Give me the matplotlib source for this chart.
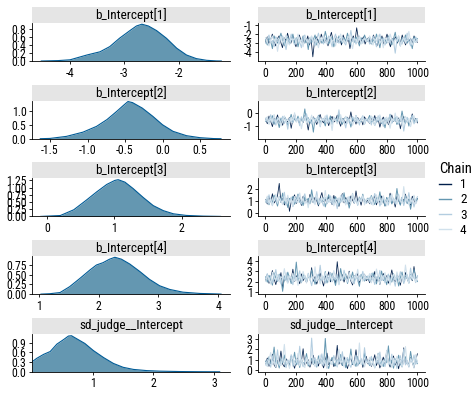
import numpy as np
import matplotlib
matplotlib.use('Agg')
import matplotlib.pyplot as plt
from matplotlib.lines import Line2D
from matplotlib.ticker import FormatStrFormatter

plt.rcParams['font.family'] = ['Roboto Condensed', 'Liberation Sans Narrow', 'Roboto', 'DejaVu Sans']
plt.rcParams['axes.unicode_minus'] = False

params = ['b_Intercept[1]', 'b_Intercept[2]', 'b_Intercept[3]', 'b_Intercept[4]', 'sd_judge__Intercept']
chains = ['1', '2', '3', '4']

# density curves
dens1_x = [-4.53, -4.22, -4.0, -3.69, -3.45, -3.27, -3.09, -2.90, -2.78, -2.68, -2.56, -2.41, -2.23, -2.04, -1.86, -1.68, -1.49, -1.31, -1.22]
dens1_y = [0, 0.01, 0.03, 0.15, 0.23, 0.36, 0.57, 0.76, 0.875, 0.92, 0.875, 0.76, 0.57, 0.32, 0.15, 0.06, 0.017, 0.002, 0]
dens2_x = [-1.63, -1.5, -1.28, -1.06, -0.88, -0.74, -0.61, -0.52, -0.46, -0.40, -0.27, -0.13, 0.0, 0.14, 0.32, 0.5, 0.68, 0.78]
dens2_y = [0, 0.01, 0.085, 0.24, 0.45, 0.70, 1.0, 1.22, 1.36, 1.32, 1.12, 0.82, 0.51, 0.27, 0.11, 0.037, 0.005, 0]
dens3_x = [-0.09, 0.2, 0.4, 0.59, 0.74, 0.89, 1.01, 1.06, 1.16, 1.28, 1.43, 1.58, 1.73, 1.88, 2.07, 2.32, 2.58]
dens3_y = [0, 0.03, 0.23, 0.57, 0.85, 1.11, 1.25, 1.275, 1.19, 0.97, 0.66, 0.375, 0.2, 0.09, 0.034, 0.01, 0]
dens4_x = [1.03, 1.18, 1.35, 1.51, 1.68, 1.85, 1.96, 2.07, 2.18, 2.27, 2.38, 2.52, 2.69, 2.85, 3.02, 3.19, 3.41, 3.69, 3.97, 4.05]
dens4_y = [0, 0.01, 0.04, 0.19, 0.40, 0.62, 0.75, 0.81, 0.90, 0.95, 0.90, 0.775, 0.58, 0.38, 0.215, 0.12, 0.05, 0.017, 0.005, 0]
dens5_x = [0.0, 0.08, 0.19, 0.30, 0.41, 0.52, 0.60, 0.65, 0.76, 0.87, 1.01, 1.18, 1.34, 1.50, 1.67, 1.89, 2.11, 2.44, 2.76, 3.09]
dens5_y = [0.31, 0.42, 0.54, 0.63, 0.86, 1.0, 1.11, 1.12, 1.0, 0.88, 0.66, 0.44, 0.26, 0.14, 0.074, 0.037, 0.02, 0.008, 0.003, 0]

# trace values (thinned), one list per chain
trace1 = [
    [-2.9, -2.3, -3.1, -2.6, -2.0, -2.8, -3.3, -2.5, -2.2, -2.9, -3.5, -2.4, -2.7, -1.9, -2.6, -3.0, -2.2, -2.8, -3.4, -2.5, -2.1, -2.7, -3.0, -2.4, -2.9, -2.2, -3.2, -2.6, -4.5, -2.8, -2.3, -2.7, -3.1, -2.0, -2.6, -2.9, -2.4, -3.3, -2.5, -1.8, -2.7, -3.0, -2.3, -2.8, -2.5, -3.2, -2.1, -2.7, -2.9, -2.4, -3.6, -2.6, -2.2, -2.8, -1.3, -2.5, -3.0, -2.7, -2.3, -3.1, -2.6,
     -2.4, -3.0, -2.7, -2.1, -2.9, -3.3, -2.5, -2.8, -2.2, -3.1, -2.6, -2.0, -2.8, -3.4, -2.5, -2.7, -2.3, -3.0, -2.6, -2.9, -2.1, -2.7, -3.2, -2.4, -2.8, -2.5, -3.0, -2.2, -2.7, -2.9],
    [-2.6, -3.2, -2.4, -2.8, -3.6, -2.2, -2.7, -3.0, -2.5, -1.9, -2.8, -3.3, -2.6, -2.3, -3.1, -2.7, -2.0, -2.9, -2.4, -3.4, -2.6, -2.8, -2.2, -3.0, -2.5, -3.7, -2.4, -2.9, -2.6, -2.1, -3.2, -2.7, -2.4, -3.0, -2.8, -1.7, -2.5, -3.1, -2.7, -2.3, -3.4, -2.6, -2.9, -2.2, -2.7, -3.0, -2.4, -2.8, -1.9, -2.6, -3.2, -2.5, -2.9, -2.3, -2.7, -3.3, -2.4, -2.8, -2.1, -2.6,
     -2.8, -2.3, -3.1, -2.6, -2.9, -2.0, -2.7, -3.5, -2.4, -2.8, -2.6, -3.0, -2.2, -2.7, -3.2, -2.5, -1.8, -2.9, -2.6, -3.3, -2.4, -2.8, -2.1, -3.0, -2.6, -2.7, -3.6, -2.3, -2.9, -2.5],
    [-3.0, -2.5, -2.1, -2.9, -2.7, -3.4, -2.3, -2.6, -3.1, -2.4, -2.2, -2.9, -3.7, -2.5, -2.8, -2.0, -2.7, -3.2, -2.6, -2.3, -2.9, -3.5, -2.4, -2.1, -2.8, -2.6, -3.0, -2.3, -2.7, -3.3, -2.5, -1.9, -2.8, -2.6, -3.1, -2.4, -2.9, -2.2, -2.7, -3.4, -2.5, -2.0, -2.8, -3.0, -2.6, -2.3, -2.9, -3.2, -2.4, -2.7, -1.6, -2.8, -2.5, -3.1, -2.6, -2.2, -2.9, -3.0, -2.4, -2.7,
     -2.5, -3.1, -2.8, -2.2, -2.7, -3.4, -2.6, -2.0, -2.9, -2.4, -3.2, -2.7, -2.3, -3.0, -2.5, -2.8, -4.1, -2.6, -2.2, -2.9, -3.1, -2.4, -2.7, -1.9, -2.8, -3.3, -2.5, -2.9, -2.3, -2.7],
    [-2.4, -2.9, -3.3, -2.6, -2.2, -2.8, -2.5, -3.9, -2.7, -2.3, -3.0, -2.6, -2.1, -2.9, -3.2, -2.5, -2.7, -2.4, -3.1, -2.0, -2.8, -2.6, -3.4, -2.3, -2.7, -2.9, -2.5, -2.2, -3.0, -2.6, -2.8, -3.5, -2.4, -2.7, -2.1, -2.9, -3.1, -2.5, -2.3, -2.8, -2.6, -3.3, -2.4, -2.7, -2.0, -2.9, -2.6, -3.0, -2.5, -2.2, -2.8, -3.6, -2.4, -2.7, -2.9, -2.3, -3.1, -2.6, -2.5, -2.8,
     -2.7, -2.2, -2.9, -3.2, -2.5, -2.8, -2.1, -3.0, -2.6, -3.5, -2.4, -2.7, -2.9, -2.0, -2.6, -3.1, -2.5, -2.8, -2.2, -3.3, -2.7, -2.4, -3.0, -2.6, -1.7, -2.8, -3.2, -2.5, -2.9, -2.6],
]
trace2 = [
    [-0.45, -0.82, -0.21, -0.63, -1.05, -0.38, -0.57, -0.12, -0.71, -0.49, -0.94, -0.26, -0.55, -0.68, -0.31, -1.18, -0.44, -0.06, -0.61, -0.50, -0.83, -0.35, -0.72, -0.19, -0.58, -1.32, -0.47, -0.66, -0.28, -0.53, -0.88, -0.41, -0.09, -0.60, -0.75, -0.36, -0.52, -0.97, -0.43, -0.24, -0.69, -0.55, -0.14, -0.62, -1.02, -0.39, -0.48, -0.77, -0.30, -0.57, 0.12, -0.64, -0.46, -0.85, -0.33, -0.59, -0.42, -0.91, -0.27, -0.54,
     -0.52, -0.81, -0.33, -0.64, -0.17, -0.73, -0.45, -1.09, -0.58, -0.29, -0.67, -0.40, -0.90, -0.55, -0.13, -0.62, -0.48, -0.79, -0.36, -1.22, -0.57, -0.25, -0.69, -0.43, -0.86, -0.51, -0.04, -0.66, -0.39, -0.75],
    [-0.62, -0.30, -0.74, -0.51, -0.18, -0.86, -0.43, -0.59, -1.12, -0.37, -0.66, -0.25, -0.48, -0.95, -0.54, -0.08, -0.70, -0.41, -0.63, -0.22, -0.89, -0.46, -0.57, 0.35, -0.68, -0.34, -0.79, -0.50, -1.48, -0.40, -0.61, -0.15, -0.73, -0.45, -0.56, -0.99, -0.32, -0.64, -0.20, -0.81, -0.49, -0.38, -0.71, -0.05, -0.58, -0.87, -0.44, -0.26, -0.67, -0.53, -1.08, -0.36, -0.60, -0.17, -0.76, -0.47, -0.65, -0.29, -0.84, -0.51,
     -0.47, -0.16, -0.71, -0.58, -0.95, -0.35, -0.63, -0.22, -0.80, -0.49, -1.14, -0.41, -0.60, -0.07, -0.74, -0.53, -0.30, -0.88, -0.45, -0.65, 0.18, -0.56, -0.78, -0.37, -1.00, -0.50, -0.27, -0.70, -0.43, -0.61],
    [-0.38, -0.69, -0.52, -0.11, -0.77, -0.44, -0.93, -0.31, -0.58, -0.66, -0.23, -0.80, -0.49, -1.25, -0.35, -0.60, -0.74, -0.16, -0.55, -0.42, -0.98, -0.27, -0.63, -0.50, -0.03, -0.71, -0.46, -0.84, -0.33, -0.57, -0.68, -0.21, -1.06, -0.48, -0.39, -0.62, -0.13, -0.75, -0.53, -0.90, -0.29, -0.59, -0.45, 0.28, -0.70, -0.41, -0.64, -1.15, -0.34, -0.56, -0.78, -0.24, -0.50, -0.67, -0.37, -0.92, -0.43, -0.18, -0.61, -0.47,
     -0.66, -0.40, -0.92, -0.28, -0.57, -0.75, -0.19, -0.61, -0.46, -1.03, -0.34, -0.68, -0.52, -0.10, -0.79, -0.44, -0.63, -0.24, -0.87, -0.55, -0.38, -1.40, -0.59, -0.31, -0.72, -0.48, -0.15, -0.83, -0.54, -0.42],
    [-0.55, -0.27, -0.88, -0.42, -0.64, -0.09, -0.73, -0.50, -0.36, -1.01, -0.59, -0.20, -0.67, -0.45, -0.81, -0.32, -0.56, 0.05, -0.70, -0.48, -0.38, -1.21, -0.53, -0.25, -0.76, -0.43, -0.62, -0.14, -0.85, -0.51, -0.34, -0.69, -0.96, -0.40, -0.58, -0.19, -0.72, -0.47, -0.63, -1.35, -0.30, -0.54, -0.82, -0.44, -0.11, -0.66, -0.57, -0.23, -0.79, -0.49, -0.37, -0.94, -0.52, -0.16, -0.71, -0.46, -0.60, -0.28, -0.87, -0.41,
     -0.44, -0.78, -0.21, -0.60, -0.96, -0.37, -0.55, -0.12, -0.70, -0.49, -0.86, -0.29, -0.64, -1.17, -0.41, -0.58, 0.02, -0.74, -0.46, -0.33, -0.90, -0.52, -0.23, -0.67, -0.39, -1.05, -0.56, -0.18, -0.73, -0.48],
]
trace3 = [
    [1.12, 0.74, 1.38, 0.95, 1.61, 0.83, 1.07, 1.45, 2.48, 0.88, 1.21, 0.66, 1.02, 1.33, 0.12, 0.91, 1.18, 1.52, 0.79, 1.09, 1.27, 0.62, 1.40, 0.97, 1.14, 0.71, 1.56, 1.03, 0.86, 1.31, 1.00, 0.58, 1.24, 1.71, 0.93, 1.16, 0.77, 1.36, 1.05, 0.69, 1.47, 0.90, 1.20, 0.54, 1.11, 1.62, 0.84, 1.29, 0.98, 0.73, 1.42, 1.06, 0.81, 1.85, 0.95, 1.19, 0.64, 1.34, 1.01, 0.87,
     1.08, 0.76, 1.33, 0.92, 1.51, 0.67, 1.19, 0.85, 1.42, 1.01, 0.59, 1.26, 0.94, 1.66, 0.81, 1.13, 0.48, 1.37, 1.04, 0.72, 1.29, 0.98, 1.58, 0.88, 1.15, 0.63, 1.40, 1.06, 0.79, 1.22],
    [0.92, 1.30, 0.68, 1.17, 0.85, 1.49, 1.03, 0.57, 1.26, 0.94, 1.66, 0.80, 1.10, 0.45, 1.22, 0.99, 1.39, 0.72, 1.13, 1.58, 0.89, 1.04, 0.61, 1.35, 0.96, 1.23, 0.76, 1.94, 1.08, 0.82, 1.44, 0.67, 1.15, 0.91, 1.28, 0.50, 1.06, 1.53, 0.87, 1.19, 0.74, 1.37, 1.00, 0.63, 1.25, 0.93, 1.69, 0.78, 1.12, 0.40, 1.02, 1.46, 0.88, 1.21, 0.70, 1.33, 0.97, 1.57, 0.83, 1.09,
     1.24, 0.87, 1.46, 1.02, 0.70, 1.35, 0.95, 1.77, 0.82, 1.11, 0.56, 1.30, 0.99, 1.49, 0.75, 1.18, 0.91, 2.05, 1.07, 0.64, 1.28, 0.90, 1.44, 0.77, 1.16, 0.30, 1.03, 1.39, 0.86, 1.20],
    [1.05, 0.81, 1.52, 0.97, 0.60, 1.28, 1.14, 0.76, 1.40, 0.89, 1.07, 1.73, 0.65, 1.19, 0.94, 1.33, 0.52, 1.11, 0.86, 1.47, 1.01, 0.73, 1.24, 1.60, 0.92, 0.68, 1.16, 1.36, 0.84, 1.03, 1.79, 0.77, 1.21, 0.95, 0.58, 1.30, 1.08, 0.90, 1.43, 0.71, 1.17, 1.00, 0.35, 1.26, 0.87, 1.54, 0.96, 1.12, 0.75, 1.38, 0.99, 1.64, 0.80, 1.15, 0.62, 1.27, 0.93, 1.45, 1.04, 0.79,
     0.94, 1.27, 0.71, 1.10, 1.63, 0.85, 1.21, 0.57, 1.04, 1.38, 0.80, 1.15, 0.66, 1.47, 0.97, 1.25, 0.74, 1.09, 1.56, 0.89, 1.32, 0.61, 1.13, 0.93, 1.70, 0.78, 1.19, 0.49, 1.06, 1.36],
    [0.99, 1.41, 0.78, 1.20, 0.63, 1.09, 1.55, 0.86, 1.31, 1.02, 0.70, 1.25, 0.92, 1.48, 0.80, 1.13, 0.55, 1.37, 1.05, 0.84, 1.67, 0.96, 1.22, 0.74, 1.10, 0.43, 1.34, 0.91, 1.18, 0.69, 1.50, 1.04, 0.82, 1.27, 0.98, 1.88, 0.76, 1.14, 0.88, 1.39, 0.59, 1.07, 1.23, 0.85, 1.46, 0.94, 1.11, 0.66, 1.32, 1.01, 0.79, 1.59, 0.90, 1.24, 0.72, 1.16, 0.97, 1.43, 0.67, 1.12,
     1.17, 0.83, 1.35, 0.64, 1.09, 1.52, 0.92, 1.23, 0.70, 1.44, 1.00, 0.58, 1.29, 0.87, 1.61, 0.96, 1.14, 0.73, 1.40, 1.02, 0.81, 2.21, 0.95, 1.26, 0.68, 1.12, 0.90, 1.48, 0.77, 1.05],
]
trace4 = [
    [2.15, 2.71, 1.86, 2.42, 3.08, 2.27, 1.74, 2.55, 2.09, 2.88, 1.38, 2.34, 2.62, 1.95, 2.47, 2.19, 3.21, 2.03, 2.58, 2.30, 1.82, 2.76, 2.12, 2.44, 1.91, 2.67, 2.25, 3.35, 2.06, 2.51, 1.79, 2.39, 2.84, 2.17, 1.60, 2.60, 2.32, 2.96, 2.00, 2.48, 2.23, 1.88, 3.92, 2.36, 2.14, 2.69, 1.98, 2.53, 2.28, 3.02, 2.08, 1.70, 2.57, 2.40, 2.81, 1.93, 2.46, 2.20, 2.74, 2.11,
     2.38, 1.92, 2.67, 2.21, 2.99, 2.04, 2.52, 1.76, 2.44, 2.80, 2.15, 2.59, 1.87, 2.33, 3.14, 2.26, 2.01, 2.71, 2.41, 1.68, 2.56, 2.19, 2.90, 2.35, 1.95, 2.63, 2.11, 3.46, 2.29, 2.49],
    [2.48, 1.97, 2.63, 2.21, 1.69, 2.85, 2.37, 2.05, 2.74, 2.29, 1.10, 2.56, 2.13, 2.92, 2.40, 1.84, 2.67, 2.26, 3.88, 2.10, 2.52, 1.92, 2.78, 2.33, 2.01, 2.60, 2.18, 3.14, 2.45, 1.77, 2.35, 2.70, 2.07, 2.54, 2.24, 2.98, 1.90, 2.43, 2.16, 2.83, 2.31, 1.66, 2.59, 2.04, 3.27, 2.38, 2.22, 2.76, 1.85, 2.50, 2.27, 2.94, 2.02, 2.61, 2.19, 1.58, 2.72, 2.36, 2.08, 2.53,
     2.19, 2.64, 2.02, 2.86, 2.30, 1.81, 2.55, 2.27, 3.03, 2.12, 2.45, 1.73, 2.68, 2.36, 1.98, 2.77, 2.22, 2.51, 1.61, 2.40, 2.94, 2.09, 2.58, 2.31, 1.89, 2.73, 2.17, 3.19, 2.43, 2.03],
    [2.30, 2.79, 2.04, 2.55, 1.89, 2.39, 3.17, 2.14, 2.66, 1.80, 2.49, 2.23, 2.87, 2.00, 2.58, 2.32, 1.73, 2.70, 2.17, 2.45, 3.05, 1.94, 2.37, 2.62, 2.11, 2.82, 2.28, 1.64, 2.51, 2.06, 2.75, 2.34, 3.58, 2.15, 2.43, 1.87, 2.64, 2.25, 2.90, 2.01, 2.47, 2.20, 2.73, 1.78, 2.56, 2.12, 3.11, 2.35, 1.96, 2.68, 2.26, 2.44, 1.83, 2.77, 2.09, 2.59, 2.31, 3.00, 2.16, 2.42,
     2.57, 2.06, 2.82, 2.34, 1.75, 2.48, 2.21, 3.09, 2.13, 2.62, 1.90, 2.39, 2.75, 2.00, 2.53, 2.28, 1.59, 2.66, 2.18, 2.97, 2.42, 1.84, 2.31, 2.70, 2.08, 3.31, 2.25, 2.50, 1.93, 2.60],
    [2.05, 2.60, 2.26, 1.79, 2.93, 2.41, 2.12, 2.68, 1.99, 2.50, 2.33, 3.26, 2.18, 1.86, 2.57, 2.29, 2.81, 2.07, 2.46, 1.67, 2.64, 2.22, 2.99, 2.38, 1.93, 2.72, 2.14, 2.54, 2.31, 3.43, 2.03, 2.49, 1.81, 2.66, 2.20, 2.87, 2.35, 1.98, 2.58, 2.10, 3.07, 2.44, 2.27, 1.72, 2.63, 2.16, 2.78, 2.39, 2.01, 2.91, 2.24, 1.89, 2.55, 2.32, 3.19, 2.13, 2.47, 2.06, 2.70, 2.28,
     2.33, 2.79, 1.91, 2.47, 2.14, 3.22, 2.37, 1.80, 2.61, 2.24, 2.88, 2.06, 2.52, 1.70, 2.43, 2.72, 2.16, 2.95, 2.30, 1.97, 2.58, 2.11, 3.60, 2.39, 1.86, 2.65, 2.27, 2.84, 2.02, 2.46],
]
trace5 = [
    [0.62, 1.15, 0.34, 0.88, 1.52, 0.47, 0.21, 0.95, 0.71, 1.83, 0.56, 0.29, 1.08, 0.77, 0.40, 1.34, 0.63, 0.15, 0.92, 1.21, 0.52, 0.83, 2.05, 0.44, 0.69, 0.98, 0.26, 0.74, 1.41, 0.58, 0.86, 0.37, 1.12, 0.66, 0.19, 0.90, 1.63, 0.49, 0.79, 1.03, 0.31, 0.70, 2.38, 0.55, 0.97, 0.41, 1.26, 0.64, 0.12, 0.85, 1.17, 0.50, 0.75, 1.95, 0.45, 0.68, 1.04, 0.24, 0.81, 1.32,
     0.58, 1.10, 0.33, 0.79, 1.47, 0.42, 0.95, 0.18, 0.71, 1.24, 0.54, 1.86, 0.66, 0.27, 0.89, 1.35, 0.47, 0.81, 0.10, 1.02, 0.61, 2.14, 0.50, 0.87, 0.36, 1.18, 0.73, 0.22, 0.94, 1.56],
    [0.85, 0.39, 1.27, 0.60, 0.97, 2.21, 0.53, 0.76, 0.18, 1.09, 0.67, 1.44, 0.42, 0.88, 0.30, 1.19, 0.73, 1.71, 0.48, 0.94, 0.23, 1.05, 0.61, 0.80, 1.58, 0.36, 0.70, 1.13, 0.51, 0.89, 0.27, 1.36, 0.65, 0.99, 0.45, 3.05, 0.57, 0.13, 0.84, 1.22, 0.63, 0.38, 1.00, 0.72, 1.49, 0.43, 0.91, 0.20, 1.11, 0.66, 2.02, 0.54, 0.78, 0.33, 1.30, 0.59, 0.93, 0.47, 1.67, 0.71,
     0.77, 0.41, 1.20, 0.63, 0.25, 0.98, 1.61, 0.52, 0.84, 0.32, 1.13, 0.69, 2.33, 0.46, 0.91, 0.16, 1.06, 0.74, 1.42, 0.56, 0.29, 0.88, 1.27, 0.64, 0.38, 1.79, 0.80, 0.49, 1.01, 0.60],
    [0.48, 1.02, 0.73, 0.26, 1.36, 0.81, 0.55, 1.94, 0.40, 0.90, 1.14, 0.62, 0.21, 0.99, 0.68, 1.47, 0.36, 0.84, 1.06, 0.52, 2.29, 0.77, 0.30, 0.93, 1.25, 0.59, 0.43, 3.08, 0.70, 1.17, 0.35, 0.87, 0.64, 1.55, 0.46, 0.96, 0.16, 1.08, 0.75, 0.53, 1.39, 0.82, 0.28, 1.01, 0.61, 1.76, 0.42, 0.89, 1.20, 0.57, 0.24, 0.95, 0.69, 1.42, 0.37, 0.83, 1.10, 0.56, 2.15, 0.74,
     0.90, 0.53, 1.31, 0.70, 0.20, 1.05, 0.62, 1.73, 0.44, 0.85, 0.31, 1.16, 0.76, 0.57, 1.52, 0.39, 0.96, 0.14, 0.82, 1.37, 0.60, 2.02, 0.48, 0.92, 0.26, 1.09, 0.71, 1.44, 0.54, 0.86],
    [0.71, 0.32, 0.96, 1.68, 0.50, 0.87, 0.25, 1.23, 0.64, 0.41, 1.05, 2.47, 0.58, 0.80, 0.14, 0.92, 1.33, 0.46, 0.76, 1.60, 0.39, 0.98, 0.62, 0.22, 1.16, 0.85, 0.54, 1.88, 0.67, 0.31, 1.01, 0.79, 1.45, 0.44, 0.91, 0.60, 0.17, 1.28, 0.72, 0.49, 1.07, 0.86, 0.35, 1.98, 0.63, 0.94, 0.27, 1.19, 0.74, 0.51, 1.38, 0.88, 0.40, 1.03, 0.65, 2.61, 0.53, 0.97, 0.29, 0.82,
     0.66, 1.22, 0.43, 0.87, 0.19, 1.04, 1.57, 0.59, 0.34, 0.93, 0.72, 1.90, 0.51, 0.80, 0.23, 1.14, 0.68, 1.31, 0.45, 0.99, 0.28, 0.84, 2.26, 0.61, 0.37, 1.07, 0.78, 0.16, 1.48, 0.70],
]

dens_x = [dens1_x, dens2_x, dens3_x, dens4_x, dens5_x]
dens_y = [dens1_y, dens2_y, dens3_y, dens4_y, dens5_y]
traces = [trace1, trace2, trace3, trace4, trace5]

# axis settings per row
dens_xlim = [(-4.70, -1.06), (-1.74, 0.90), (-0.22, 2.72), (0.88, 4.20), (0.0, 3.26)]
dens_xticks = [[-4, -3, -2], [-1.5, -1.0, -0.5, 0.0, 0.5], [0, 1, 2], [1, 2, 3, 4], [1, 2, 3]]
dens_xfmt = ['%d', '%.1f', '%d', '%d', '%d']
dens_ylim = [0.95, 1.39, 1.32, 0.98, 1.18]
dens_yticks = [[0, 0.2, 0.4, 0.6, 0.8], [0, 0.5, 1.0], [0, 0.25, 0.5, 0.75, 1.0, 1.25],
               [0, 0.25, 0.5, 0.75], [0, 0.3, 0.6, 0.9]]
dens_yfmt = ['%.1f', '%.1f', '%.2f', '%.2f', '%.1f']
trace_ylim = [(-4.96, -0.78), (-2.0, 1.0), (-0.3, 2.9), (0.84, 4.45), (-0.19, 3.5)]
trace_yticks = [[-4, -3, -2, -1], [-1, 0], [0, 1, 2], [1, 2, 3, 4], [0, 1, 2, 3]]

chain_colors = ['#011f4b', '#6497b1', '#b3cde0', '#d1e1ec']
chain_lw = [0.55, 0.7, 0.75, 0.8]
W, H = 474, 395
fs = 8.5

fig = plt.figure(figsize=(W / 100, H / 100), dpi=100)


def px_axes(l, t, r, b):
    return fig.add_axes([l / W, 1 - b / H, (r - l) / W, (b - t) / H])


def style(ax):
    for s in ['top', 'right']:
        ax.spines[s].set_visible(False)
    for s in ['left', 'bottom']:
        ax.spines[s].set_linewidth(0.6)
    ax.tick_params(length=2.5, width=0.6, labelsize=fs, pad=1.5, colors='black')


def strip(l, r, t, b, label):
    sa = px_axes(l, t, r, b)
    sa.set_facecolor('#e5e5e5')
    sa.set_xticks([])
    sa.set_yticks([])
    for s in sa.spines.values():
        s.set_visible(False)
    sa.text(0.5, 0.5, label, ha='center', va='center', fontsize=9.5, transform=sa.transAxes)


for i, p in enumerate(params):
    top = 7 + 77.7 * i
    mid = 23 + 77.7 * i
    bot = 61 + 77.7 * i

    # density
    strip(32, 230, top, mid, p)
    ax = px_axes(32, mid, 230, bot)
    ax.fill_between(dens_x[i], dens_y[i], color='#6497b1', lw=0)
    ax.plot(dens_x[i], dens_y[i], color='#005b96', lw=0.8)
    ax.set_xlim(*dens_xlim[i])
    ax.set_ylim(0, dens_ylim[i])
    ax.set_xticks(dens_xticks[i])
    ax.xaxis.set_major_formatter(FormatStrFormatter(dens_xfmt[i]))
    ax.set_yticks(dens_yticks[i])
    ax.yaxis.set_major_formatter(FormatStrFormatter(dens_yfmt[i]))
    style(ax)

    # trace
    strip(258, 425, top, mid, p)
    ax = px_axes(258, mid, 425, bot)
    for c, vals in enumerate(traces[i]):
        it = np.linspace(1, 1000, len(vals))
        ax.plot(it, vals, color=chain_colors[c], lw=chain_lw[c])
    ax.set_xlim(-49, 1050)
    ax.set_ylim(*trace_ylim[i])
    ax.set_xticks([0, 200, 400, 600, 800, 1000])
    ax.set_yticks(trace_yticks[i])
    style(ax)

handles = [Line2D([0], [0], color=col, lw=1.0) for col in chain_colors]
fig.legend(handles, chains, title='Chain', loc='upper left',
           bbox_to_anchor=(427 / W, 1 - 150 / H), frameon=False,
           handlelength=0.9, handletextpad=0.7, labelspacing=0.17,
           fontsize=9.5, title_fontsize=10.5, alignment='left')

fig.savefig('out.png', dpi=100)
